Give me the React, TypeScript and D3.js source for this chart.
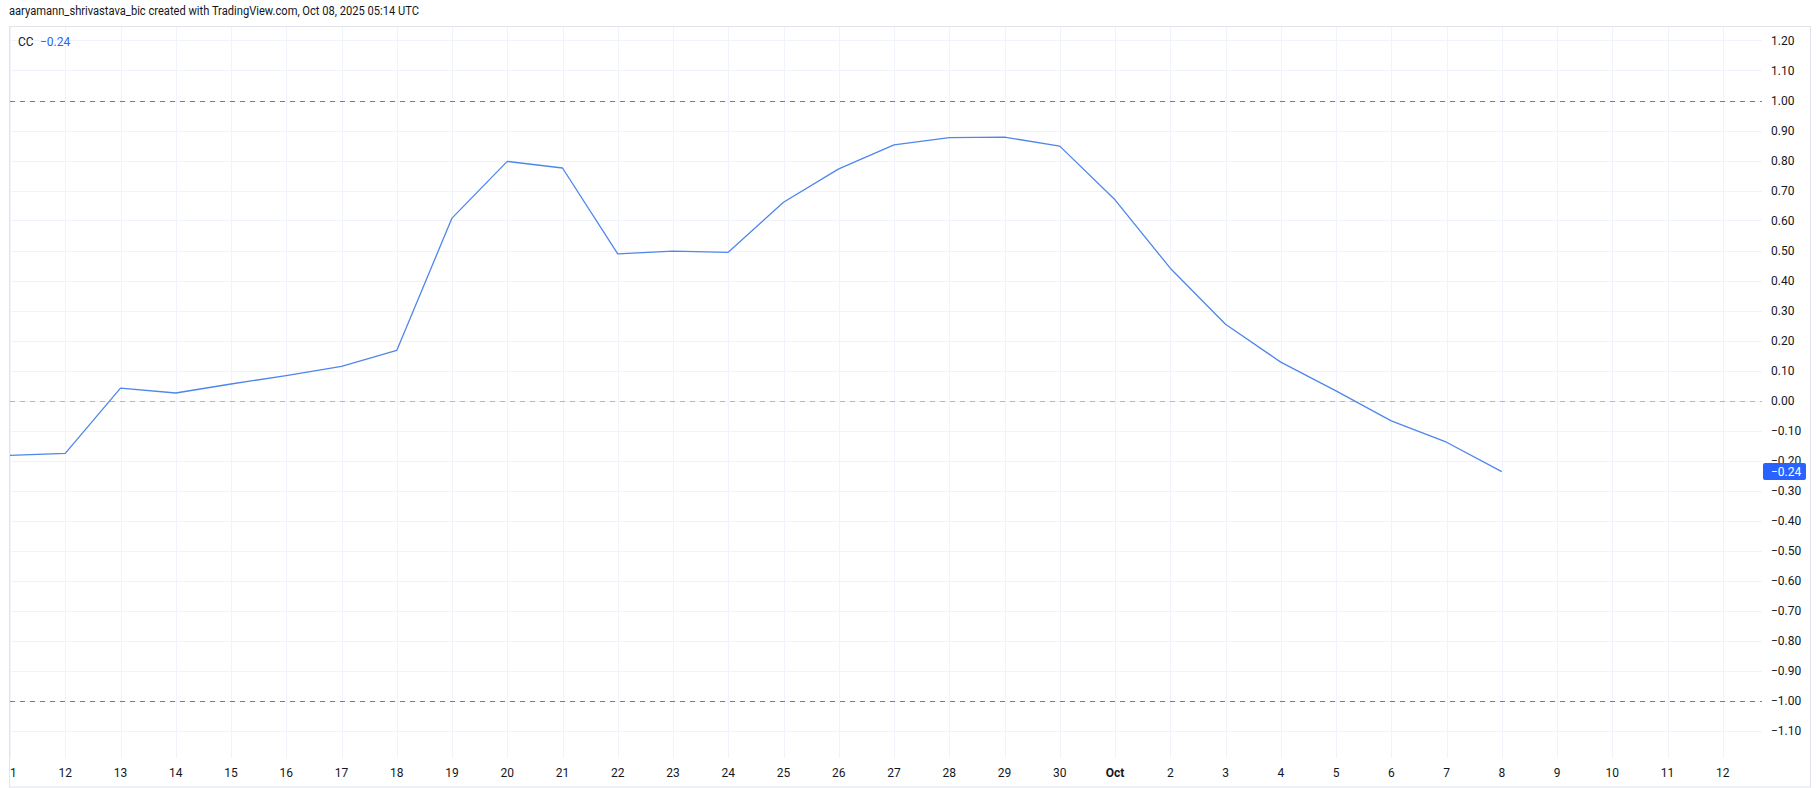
import React from "react";
import * as d3 from "d3";

const W = 1817;
const H = 788;

const titleText = "aaryamann_shrivastava_bic created with TradingView.com, Oct 08, 2025 05:14 UTC";
const seriesName = "CC";
const lastLabel = "\u22120.24";

const dates = [
  "2025-09-11", "2025-09-12", "2025-09-13", "2025-09-14", "2025-09-15", "2025-09-16", "2025-09-17",
  "2025-09-18", "2025-09-19", "2025-09-20", "2025-09-21", "2025-09-22", "2025-09-23", "2025-09-24",
  "2025-09-25", "2025-09-26", "2025-09-27", "2025-09-28", "2025-09-29", "2025-09-30", "2025-10-01",
  "2025-10-02", "2025-10-03", "2025-10-04", "2025-10-05", "2025-10-06", "2025-10-07", "2025-10-08",
];
const ccValues = [
  -0.183, -0.176, 0.041, 0.025, 0.055, 0.083, 0.114,
  0.167, 0.608, 0.797, 0.775, 0.489, 0.498, 0.494,
  0.661, 0.772, 0.852, 0.876, 0.878, 0.848, 0.669,
  0.441, 0.254, 0.128, 0.032, -0.068, -0.139, -0.237,
];

const tickDates = [
  "2025-09-11", "2025-09-12", "2025-09-13", "2025-09-14", "2025-09-15", "2025-09-16", "2025-09-17",
  "2025-09-18", "2025-09-19", "2025-09-20", "2025-09-21", "2025-09-22", "2025-09-23", "2025-09-24",
  "2025-09-25", "2025-09-26", "2025-09-27", "2025-09-28", "2025-09-29", "2025-09-30", "2025-10-01",
  "2025-10-02", "2025-10-03", "2025-10-04", "2025-10-05", "2025-10-06", "2025-10-07", "2025-10-08",
  "2025-10-09", "2025-10-10", "2025-10-11", "2025-10-12",
];
const tickLabels = [
  "11", "12", "13", "14", "15", "16", "17", "18", "19", "20", "21", "22", "23", "24", "25", "26",
  "27", "28", "29", "30", "Oct", "2", "3", "4", "5", "6", "7", "8", "9", "10", "11", "12",
];

const yTicks = [1.2, 1.1, 1.0, 0.9, 0.8, 0.7, 0.6, 0.5, 0.4, 0.3, 0.2, 0.1, 0.0,
  -0.1, -0.2, -0.3, -0.4, -0.5, -0.6, -0.7, -0.8, -0.9, -1.0, -1.1];
const bandLevels = [1, -1];
const zeroLevel = [0];

const FONT = "Roboto, 'Noto Sans', sans-serif";
const TEXT = "#131722";
const GRID = "#f0f3fa";
const BORDER = "#e0e3eb";
const LINE = "#4f86ec";
const BLUE = "#2962ff";

const paneL = 10, paneR = 1762, paneT = 27, paneB = 758;
const outerR = 1810, outerB = 787;

export default function App() {
  const parse = d3.utcParse("%Y-%m-%d");
  const x = d3.scaleUtc()
    .domain([parse("2025-09-11") as Date, parse("2025-10-12") as Date])
    .range([10, 1722.75]);
  const y = d3.scaleLinear().domain([-1, 1]).range([700.5, 100.5]);

  const pts = dates.map((d, i) => ({ d: parse(d) as Date, v: ccValues[i] }));
  const line = d3.line<{ d: Date; v: number }>().x(p => x(p.d)).y(p => y(p.v));
  const fmt = (v: number) => (v < 0 ? "\u2212" : "") + d3.format(".2f")(Math.abs(v));

  const last = pts[pts.length - 1];

  return (
    <svg width={W} height={H} style={{ position: "absolute", left: 0, top: 0, background: "#fff" }}
      fontFamily={FONT}>
      <defs>
        <clipPath id="pane"><rect x={paneL} y={paneT} width={paneR - paneL} height={paneB - paneT} /></clipPath>
        <clipPath id="taxis"><rect x={paneL} y={paneB} width={paneR - paneL} height={outerB - paneB} /></clipPath>
      </defs>
      <rect x={0} y={0} width={W} height={H} fill="#fff" />

      <text x={9} y={15} fontSize={12.5} fill={TEXT} textLength={410} lengthAdjust="spacingAndGlyphs">{titleText}</text>

      {/* grid */}
      <g clipPath="url(#pane)">
        {yTicks.map(t => (
          <line key={"h" + t} x1={paneL} x2={paneR} y1={Math.round(y(t)) + 0.5} y2={Math.round(y(t)) + 0.5}
            stroke={GRID} strokeWidth={1} />
        ))}
        {tickDates.map(t => {
          const xx = Math.round(x(parse(t) as Date)) + 0.5;
          return <line key={"v" + t} x1={xx} x2={xx} y1={paneT} y2={paneB} stroke={GRID} strokeWidth={1} />;
        })}
        {bandLevels.map(b => (
          <line key={"b" + b} x1={paneL} x2={paneR} y1={Math.round(y(b)) + 0.5} y2={Math.round(y(b)) + 0.5}
            stroke="#787b86" strokeWidth={1} strokeDasharray="5 5" />
        ))}
        {zeroLevel.map(b => (
          <line key={"z" + b} x1={paneL} x2={paneR} y1={Math.round(y(b)) + 0.5} y2={Math.round(y(b)) + 0.5}
            stroke="#787b86" strokeOpacity={0.5} strokeWidth={1} strokeDasharray="5 5" />
        ))}
        <path d={line(pts) || ""} fill="none" stroke={LINE} strokeWidth={1.3} strokeLinejoin="round" />
      </g>

      {/* outer border */}
      <rect x={paneL - 0.5} y={paneT - 0.5} width={outerR - paneL + 1} height={outerB - paneT + 0.5}
        fill="none" stroke={BORDER} strokeWidth={1} />

      {/* legend */}
      <text x={18} y={46} fontSize={12} fill={TEXT}>{seriesName}</text>
      <text x={40} y={46} fontSize={12} fill={BLUE}>{lastLabel}</text>

      {/* price axis */}
      {yTicks.map(t => (
        <text key={"yl" + t} x={1771} y={y(t)} dy="0.35em" fontSize={12} fill={TEXT}>{fmt(t)}</text>
      ))}
      <rect x={1763} y={y(last.v) - 8.5} width={43} height={17} rx={2} fill={BLUE} />
      <text x={1771} y={y(last.v)} dy="0.35em" fontSize={12} fill="#fff">{fmt(Math.round(last.v * 100) / 100)}</text>

      {/* time axis */}
      <g clipPath="url(#taxis)">
        {tickDates.map((t, i) => (
          <text key={"xl" + t} x={x(parse(t) as Date)} y={777} fontSize={12} fill={TEXT} textAnchor="middle"
            fontWeight={tickLabels[i] === "Oct" ? 700 : 400}>{tickLabels[i]}</text>
        ))}
      </g>
    </svg>
  );
}
